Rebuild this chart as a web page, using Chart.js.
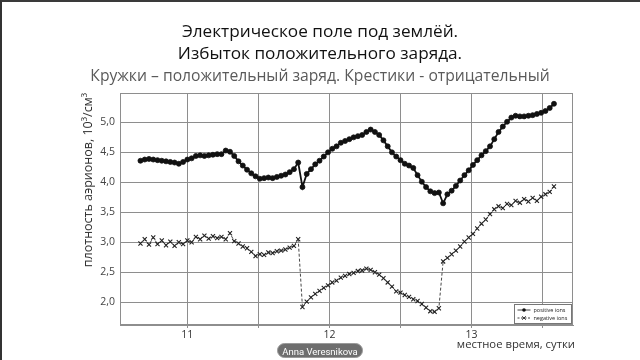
<!DOCTYPE html>
<html><head><meta charset="utf-8">
<script src="https://cdn.jsdelivr.net/npm/chart.js@4.4.1/dist/chart.umd.min.js"></script>
<style>
html,body{margin:0;padding:0;background:#fff;}
body{width:640px;height:360px;position:relative;overflow:hidden;font-family:"Open Sans",sans-serif;}
#c{position:absolute;left:0;top:0;}
.t{position:absolute;left:0;width:640px;text-align:center;white-space:nowrap;}
#t1{top:21px;font-size:17.2px;line-height:20px;color:#111;}
#t2{top:43px;font-size:17.2px;line-height:20px;color:#111;}
#t3{top:65px;font-size:15.7px;line-height:20px;color:#5a5a5a;}
#yt{position:absolute;left:-12px;top:170px;width:200px;height:20px;line-height:20px;font-size:12.5px;color:#333;text-align:center;white-space:nowrap;transform:rotate(-90deg);transform-origin:50% 50%;}
#xt{position:absolute;right:65px;top:336px;font-size:11.3px;line-height:16px;color:#333;white-space:nowrap;}
#badge{position:absolute;left:277px;top:343px;width:86px;height:15px;border-radius:8px;background:#6e6e6e;color:#fff;font-size:9.5px;line-height:15px;text-align:center;box-sizing:border-box;border:1px solid #9a9a9a;font-family:Roboto,sans-serif;}
#frameb{position:absolute;left:0;top:0;width:640px;height:360px;box-sizing:border-box;border-top:2px solid #3a3a3a;border-left:2px solid #333;pointer-events:none;}
</style></head><body>
<canvas id="c" width="640" height="360"></canvas>
<div class="t" id="t1">Электрическое поле под землёй.</div>
<div class="t" id="t2">Избыток положительного заряда.</div>
<div class="t" id="t3">Кружки – положительный заряд. Крестики - отрицательный</div>
<div id="yt">плотность аэрионов, 10³/см³</div>
<div id="xt">местное время, сутки</div>
<div id="badge">Anna Veresnikova</div>
<div id="frameb"></div>
<script>
const times = [10.67,10.70,10.73,10.76,10.79,10.82,10.85,10.88,10.91,10.94,10.97,11.00,11.03,11.06,11.09,11.12,11.15,11.18,11.21,11.24,11.27,11.30,11.33,11.36,11.39,11.42,11.45,11.48,11.51,11.54,11.57,11.60,11.63,11.66,11.69,11.72,11.75,11.78,11.81,11.84,11.87,11.90,11.93,11.96,11.99,12.02,12.05,12.08,12.11,12.14,12.17,12.20,12.23,12.26,12.29,12.32,12.35,12.38,12.41,12.44,12.47,12.50,12.53,12.56,12.59,12.62,12.65,12.68,12.71,12.74,12.77,12.80,12.83,12.86,12.89,12.92,12.95,12.98,13.01,13.04,13.07,13.10,13.13,13.16,13.19,13.22,13.25,13.28,13.31,13.34,13.37,13.40,13.43,13.46,13.49,13.52,13.55,13.58];
const positiveIons = [4.36,4.38,4.39,4.38,4.37,4.36,4.35,4.34,4.33,4.31,4.34,4.38,4.40,4.44,4.45,4.44,4.45,4.46,4.47,4.47,4.53,4.51,4.44,4.35,4.28,4.21,4.15,4.10,4.06,4.07,4.08,4.07,4.09,4.11,4.13,4.17,4.22,4.33,3.92,4.14,4.22,4.30,4.36,4.43,4.50,4.56,4.60,4.66,4.69,4.72,4.75,4.77,4.79,4.84,4.88,4.84,4.79,4.70,4.60,4.50,4.43,4.37,4.31,4.28,4.24,4.12,4.01,3.92,3.85,3.82,3.83,3.65,3.80,3.86,3.94,4.03,4.12,4.20,4.29,4.37,4.45,4.52,4.60,4.72,4.84,4.93,5.01,5.08,5.11,5.10,5.10,5.11,5.12,5.14,5.16,5.19,5.24,5.31];
const negativeIons = [2.98,3.05,2.96,3.08,2.97,3.03,2.95,3.01,2.94,3.00,2.97,3.03,3.00,3.09,3.05,3.11,3.06,3.10,3.07,3.09,3.05,3.15,3.02,2.98,2.93,2.90,2.84,2.77,2.80,2.79,2.83,2.82,2.85,2.86,2.88,2.91,2.94,3.05,1.92,2.01,2.08,2.14,2.19,2.24,2.28,2.33,2.36,2.41,2.44,2.47,2.49,2.52,2.53,2.56,2.54,2.50,2.46,2.40,2.33,2.26,2.18,2.16,2.12,2.09,2.05,2.02,1.97,1.91,1.85,1.84,1.90,2.68,2.74,2.80,2.86,2.93,3.01,3.08,3.14,3.23,3.31,3.38,3.47,3.55,3.60,3.57,3.64,3.62,3.69,3.66,3.72,3.68,3.74,3.69,3.76,3.80,3.84,3.93];
const xTickValues = [11, 11.5, 12, 12.5, 13, 13.5];
const xTickLabels = ['11', '', '12', '', '13', ''];
const yTickValues = [2.0, 2.5, 3.0, 3.5, 4.0, 4.5, 5.0];
const yTickLabels = ['2,0', '2,5', '3,0', '3,5', '4,0', '4,5', '5,0'];
const seriesNames = ['positive ions', 'negative ions'];

const toPts = vals => times.map((t, i) => ({x: t, y: vals[i]}));
const GRID = '#8e8e8e';

const framePlugin = {
  id: 'frame',
  beforeDatasetsDraw(chart) {
    const {ctx, chartArea: a} = chart;
    ctx.save();
    ctx.strokeStyle = GRID; ctx.lineWidth = 1;
    ctx.strokeRect(Math.round(a.left) + 0.5, Math.round(a.top) + 0.5, Math.round(a.right - a.left) - 1, Math.round(a.bottom - a.top) - 1);
    ctx.restore();
  }
};

const legendPlugin = {
  id: 'legendBox',
  afterDatasetsDraw(chart) {
    const {ctx, chartArea: a} = chart;
    const w = 57, h = 19;
    const x0 = Math.round(a.right - 2 - w) + 0.5, y0 = Math.round(a.bottom - 2 - h) + 0.5;
    ctx.save();
    ctx.fillStyle = '#fff'; ctx.strokeStyle = '#777'; ctx.lineWidth = 1;
    ctx.fillRect(x0, y0, w, h); ctx.strokeRect(x0, y0, w, h);
    const rows = [y0 + 5.5, y0 + 13.5];
    ctx.font = '5.5px "Open Sans"'; ctx.textBaseline = 'middle'; ctx.fillStyle = '#222';
    rows.forEach((yy, i) => {
      ctx.strokeStyle = '#111'; ctx.lineWidth = 0.8;
      ctx.setLineDash(i === 0 ? [] : [2, 1.5]);
      ctx.beginPath(); ctx.moveTo(x0 + 3, yy); ctx.lineTo(x0 + 16, yy); ctx.stroke();
      ctx.setLineDash([]);
      const mx = x0 + 9.5;
      if (i === 0) {
        ctx.beginPath(); ctx.arc(mx, yy, 1.8, 0, Math.PI * 2); ctx.fillStyle = '#111'; ctx.fill();
      } else {
        ctx.beginPath(); ctx.moveTo(mx - 1.8, yy - 1.8); ctx.lineTo(mx + 1.8, yy + 1.8);
        ctx.moveTo(mx - 1.8, yy + 1.8); ctx.lineTo(mx + 1.8, yy - 1.8); ctx.stroke();
      }
      ctx.fillStyle = '#222';
      ctx.fillText(seriesNames[i], x0 + 19, yy);
    });
    ctx.restore();
  }
};

new Chart(document.getElementById('c'), {
  type: 'line',
  data: {
    datasets: [
      {label: seriesNames[0], data: toPts(positiveIons), borderColor: '#111', borderWidth: 1.8,
       pointStyle: 'circle', pointRadius: 2.5, pointBackgroundColor: '#111', pointBorderColor: '#111', pointBorderWidth: 0.8, tension: 0},
      {label: seriesNames[1], data: toPts(negativeIons), borderColor: '#333', borderWidth: 0.9, borderDash: [3, 2],
       pointStyle: 'crossRot', pointRadius: 2.9, pointBorderColor: '#222', pointBorderWidth: 1.1, tension: 0}
    ]
  },
  options: {
    responsive: false, animation: false, devicePixelRatio: 1,
    layout: {padding: {top: 93, right: 67, left: 0, bottom: 0}},
    plugins: {legend: {display: false}, tooltip: {enabled: false}},
    scales: {
      x: {
        type: 'linear', min: 10.526, max: 13.714,
        afterFit(s) { s.height = 35; },
        afterBuildTicks(s) { s.ticks = xTickValues.map(v => ({value: v})); },
        ticks: {callback: (v, i) => xTickLabels[i], font: {family: 'Open Sans', size: 10.5}, color: '#333', padding: 1, maxRotation: 0, autoSkip: false},
        grid: {color: GRID, lineWidth: 1, tickLength: 3},
        border: {color: GRID, width: 1}
      },
      y: {
        type: 'linear', min: 1.62, max: 5.49,
        afterFit(s) { s.width = 120; },
        afterBuildTicks(s) { s.ticks = yTickValues.map(v => ({value: v})); },
        ticks: {callback: (v, i) => yTickLabels[i], font: {family: 'Open Sans', size: 10.5}, color: '#444', padding: 5, autoSkip: false},
        grid: {color: GRID, lineWidth: 1, drawTicks: false},
        border: {color: GRID, width: 1}
      }
    }
  },
  plugins: [framePlugin, legendPlugin]
});
</script>
</body></html>
